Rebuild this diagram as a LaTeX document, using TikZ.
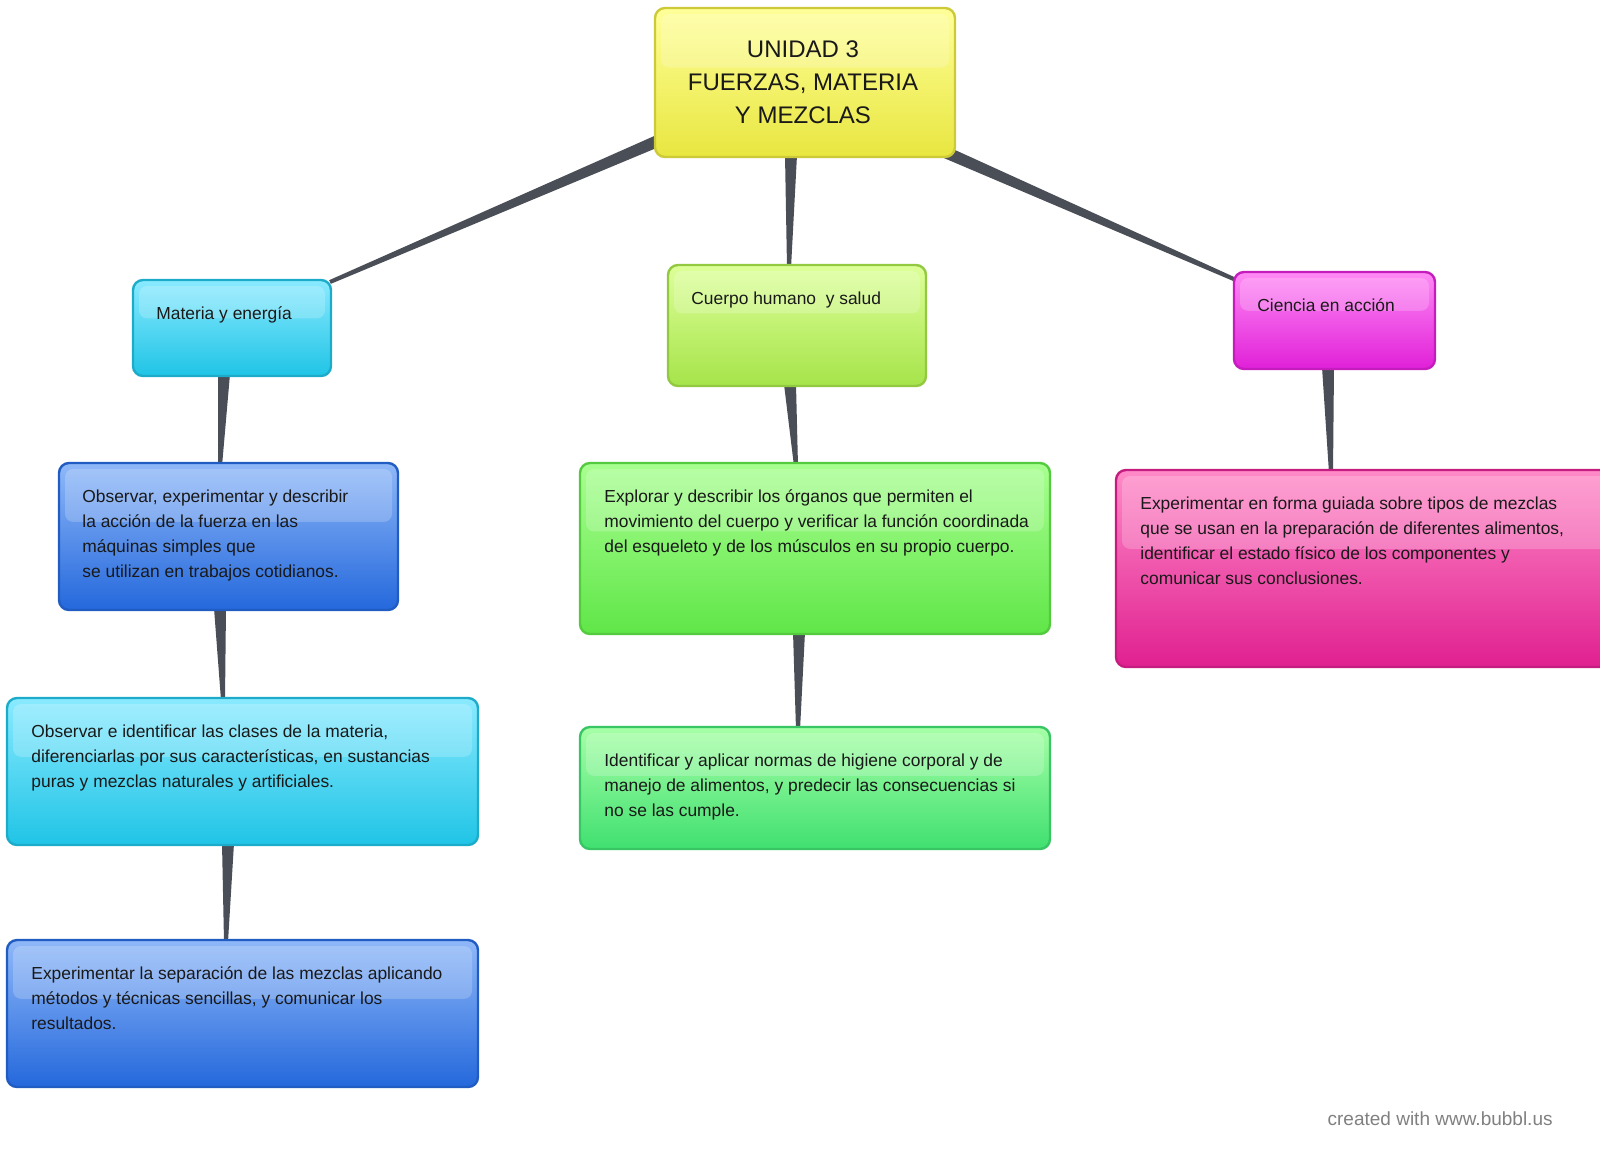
\documentclass[tikz,border=0pt]{standalone}
\usepackage{fontspec}
\setmainfont{Liberation Sans}
\usetikzlibrary{calc}
\definecolor{cn}{HTML}{4A4E57}
\definecolor{bluetop}{HTML}{8FB8F8}\definecolor{bluebot}{HTML}{2468DC}
\definecolor{cyantop}{HTML}{8AEAFF}\definecolor{cyanbot}{HTML}{20C4E6}
\definecolor{limetop}{HTML}{DDFF99}\definecolor{limebot}{HTML}{A6E44A}
\definecolor{magtop}{HTML}{FF8AF5}\definecolor{magbot}{HTML}{E020D8}
\definecolor{grtop}{HTML}{A8FF90}\definecolor{grbot}{HTML}{60E648}
\definecolor{gr2top}{HTML}{A6FFA6}\definecolor{gr2bot}{HTML}{40E070}
\definecolor{pktop}{HTML}{FF8AC8}\definecolor{pkbot}{HTML}{E02090}
\definecolor{yetop}{HTML}{FFFF99}\definecolor{yebot}{HTML}{E8E640}
\tikzset{
  box/.style={draw=black!12!#1, line width=1.2pt, rounded corners=5pt},
  txt/.style={anchor=north west, align=left, inner sep=0pt, font=\fontsize{8.7}{12.5}\selectfont, text=black!90},
  conn/.style={fill=cn}
}
\newcommand{\taper}[2]{\fill[conn] ($(#1)!3pt!90:(#2)$) -- ($(#2)!1pt!-90:(#1)$) -- ($(#2)!1pt!90:(#1)$) -- ($(#1)!3pt!-90:(#2)$) -- cycle;}
\newcommand{\bx}[7]{% name, x1,y1,x2,y2, topcolor, bottomcolor
  \path[box=#7, top color=#6, bottom color=#7] (#2,#3) rectangle (#4,#5);
  \fill[white, opacity=0.2, rounded corners=4pt] (#2+6,#3+6) rectangle (#4-6,{#3+0.4*(#5-#3)});
  \coordinate (#1) at ({(#2+#4)/2},{(#3+#5)/2});
}
\begin{document}
\begin{tikzpicture}[x=0.5pt,y=-0.5pt]
\useasboundingbox (0,0) rectangle (1600,1164);
\clip (0,0) rectangle (1600,1164);
\coordinate (t1) at (660,140); \coordinate (m1) at (330,282);
\coordinate (t2) at (791,155); \coordinate (c1) at (789,268);
\coordinate (t3) at (945,152); \coordinate (s1) at (1236,280);
\coordinate (m2) at (224,374); \coordinate (o1) at (220,466);
\coordinate (o2) at (220,608); \coordinate (o3) at (223,700);
\coordinate (o4) at (228,843); \coordinate (o5) at (226,942);
\coordinate (c2) at (790,384); \coordinate (e1) at (796,466);
\coordinate (e2) at (799,632); \coordinate (e3) at (798,730);
\coordinate (s2) at (1328,367); \coordinate (s3) at (1331,473);
\taper{t1}{m1}\taper{t2}{c1}\taper{t3}{s1}
\taper{m2}{o1}\taper{o2}{o3}\taper{o4}{o5}
\taper{c2}{e1}\taper{e2}{e3}\taper{s2}{s3}
\bx{title}{655}{8}{955}{157}{yetop}{yebot}
\node[align=center, font=\fontsize{12}{16.5}\selectfont, text=black!90] (tt) at (803,82) {UNIDAD 3\\FUERZAS, MATERIA\\Y MEZCLAS};
\bx{mat}{133}{280}{331}{376}{cyantop}{cyanbot}
\node[txt] (mt) at (156,306) {Materia y energía};
\bx{cue}{668}{265}{926}{386}{limetop}{limebot}
\node[txt] (ct) at (691,291) {Cuerpo humano\ \ y salud};
\bx{cie}{1234}{272}{1435}{369}{magtop}{magbot}
\node[txt] (cit) at (1257,298) {Ciencia en acción};
\bx{obs}{59}{463}{398}{610}{bluetop}{bluebot}
\node[txt] (obt) at (82,489) {Observar, experimentar y describir\\la acción de la fuerza en las\\máquinas simples que\\se utilizan en trabajos cotidianos.};
\bx{obe}{7}{698}{478}{845}{cyantop}{cyanbot}
\node[txt] (oet) at (31,724) {Observar e identificar las clases de la materia,\\diferenciarlas por sus características, en sustancias\\puras y mezclas naturales y artificiales.};
\bx{sep}{7}{940}{478}{1087}{bluetop}{bluebot}
\node[txt] (spt) at (31,966) {Experimentar la separación de las mezclas aplicando\\métodos y técnicas sencillas, y comunicar los\\resultados.};
\bx{exp}{580}{463}{1050}{634}{grtop}{grbot}
\node[txt] (ext) at (604,489) {Explorar y describir los órganos que permiten el\\movimiento del cuerpo y verificar la función coordinada\\del esqueleto y de los músculos en su propio cuerpo.};
\bx{ide}{580}{727}{1050}{849}{gr2top}{gr2bot}
\node[txt] (idt) at (604,753) {Identificar y aplicar normas de higiene corporal y de\\manejo de alimentos, y predecir las consecuencias si\\no se las cumple.};
\bx{gui}{1116}{470}{1640}{667}{pktop}{pkbot}
\node[txt] (gut) at (1140,496) {Experimentar en forma guiada sobre tipos de mezclas\\que se usan en la preparación de diferentes alimentos,\\identificar el estado físico de los componentes y\\comunicar sus conclusiones.};
\node[anchor=south east, inner sep=0pt, font=\fontsize{9.5}{11}\selectfont, text=black!50] (foot) at (1553,1126) {created with www.bubbl.us};
\end{tikzpicture}
\end{document}
